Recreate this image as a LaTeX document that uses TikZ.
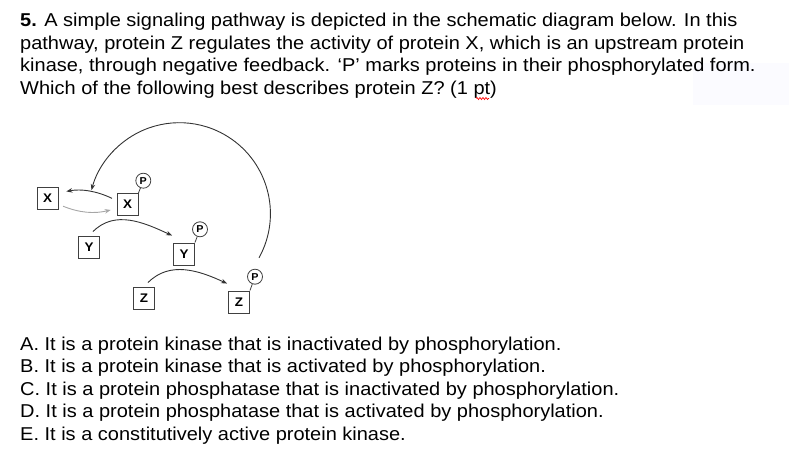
\documentclass[tikz,border=0pt]{standalone}
\usepackage{fontspec}
\setmainfont{Liberation Sans}[FakeStretch=1.075]
\usetikzlibrary{arrows.meta,decorations.pathmorphing}

\tikzset{
  prot/.style={draw=black!75, line width=0.9pt, fill=white, minimum width=21pt, minimum height=22pt, inner sep=0pt, font=\bfseries\fontsize{12.5}{12.5}\selectfont},
  phos/.style={draw=black!75, line width=0.8pt, fill=white, circle, minimum size=15pt, inner sep=0pt, font=\bfseries\fontsize{10}{10}\selectfont},
  arr/.style={-{Stealth[length=6pt,width=4.5pt]}, line width=0.9pt, black!80},
  txt/.style={anchor=base west, inner sep=0pt, font=\fontsize{18.6}{22.5}\selectfont}
}

\begin{document}
\begin{tikzpicture}[x=1pt,y=1pt]
	\useasboundingbox (0,0) rectangle (789,-463);
	\fill[blue!1.5] (693,-63) rectangle (789,-105);

	% question
	\node[txt] (q1) at (20,-26.7) {\textbf{5.} A simple signaling pathway is depicted in the schematic diagram below. In this};
	\node[txt] (q2) at (20,-49.2) {pathway, protein Z regulates the activity of protein X, which is an upstream protein};
	\node[txt] (q3) at (20,-71.7) {kinase, through negative feedback. ‘P’ marks proteins in their phosphorylated form.};
	\node[txt] (q4) at (20,-94.2) {Which of the following best describes protein Z? (1 pt)};
	\draw[red, line width=0.7pt, decorate, decoration={snake, amplitude=1pt, segment length=3pt}] (476,-98.5) -- (489,-98.5);

	% proteins
	\node[prot] (X) at (47.5,-198) {X};
	\node[prot] (XP) at (127.5,-204.5) {X};
	\node[prot] (Y) at (89,-247) {Y};
	\node[prot] (YP) at (184,-254) {Y};
	\node[prot] (Z) at (144,-298) {Z};
	\node[prot] (ZP) at (239,-302) {Z};

	\node[phos] (PX) at (143.3,-180.7) {P};
	\node[phos] (PY) at (200,-229.3) {P};
	\node[phos] (PZ) at (255,-276.7) {P};
	\draw[black!75, line width=0.8pt] (XP.north east) -- (PX);
	\draw[black!75, line width=0.8pt] (YP.north east) -- (PY);
	\draw[black!75, line width=0.8pt] (ZP.north east) -- (PZ);

	% reactions
	\draw[arr, black!35, shorten <=5pt, shorten >=6pt] (X.-30) to[bend right=18] (XP.200);
	\draw[arr, shorten <=5pt, shorten >=8pt] (XP.160) to[bend right=18] (X.25);
	\draw[arr] ([shift={(4,4)}]Y.north) to[out=45, in=155] ([shift={(-1,7)}]YP.north west);
	\draw[arr] ([shift={(4,4)}]Z.north) to[out=45, in=155] ([shift={(-1,7)}]ZP.north west);

	% feedback
	\coordinate (fb) at ([shift={(4,11)}]PZ.north);
	\draw[arr] (fb) arc[start angle=-29, end angle=165, radius=91];

	% answers
	\node[txt] (a) at (20,-350) {A. It is a protein kinase that is inactivated by phosphorylation.};
	\node[txt] (b) at (20,-372.5) {B. It is a protein kinase that is activated by phosphorylation.};
	\node[txt] (c) at (20,-395) {C. It is a protein phosphatase that is inactivated by phosphorylation.};
	\node[txt] (d) at (20,-417.5) {D. It is a protein phosphatase that is activated by phosphorylation.};
	\node[txt] (e) at (20,-440) {E. It is a constitutively active protein kinase.};
\end{tikzpicture}
\end{document}
